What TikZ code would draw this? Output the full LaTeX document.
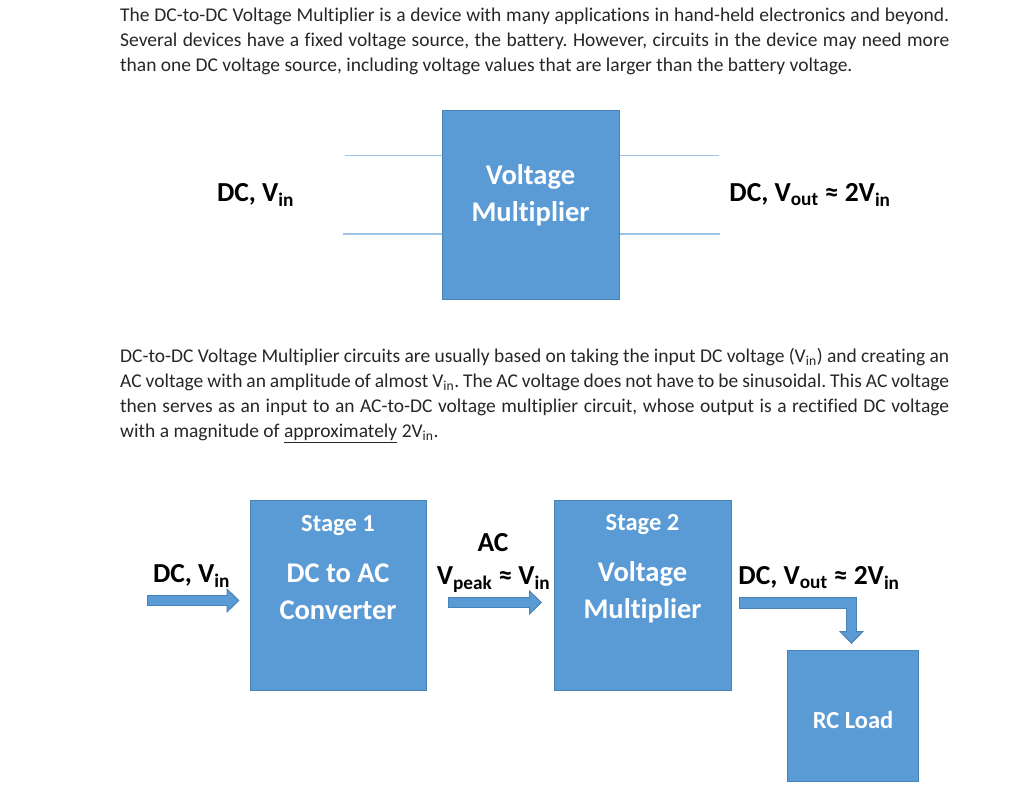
\documentclass[tikz,border=0pt]{standalone}
\usepackage{fontspec}
\setmainfont[Ligatures=NoCommon]{Carlito}
\usetikzlibrary{arrows.meta}

\definecolor{boxfill}{HTML}{5B9BD5}
\definecolor{boxedge}{HTML}{4A82B8}
\definecolor{wirecol}{HTML}{9CC2E6}
\definecolor{bodytext}{HTML}{262626}

\newcommand{\sub}[1]{\textsubscript{#1}}

\tikzset{
    block/.style={draw=boxedge, fill=boxfill, line width=1pt, inner sep=0pt, anchor=north west},
    boxtext/.style={text=white, font=\fontsize{28.5}{37.5}\selectfont\bfseries, align=center},
    stagetext/.style={text=white, font=\fontsize{24.5}{26}\selectfont\bfseries},
    sigtext/.style={text=black, font=\fontsize{27.5}{30}\selectfont\bfseries, inner sep=0pt},
    para/.style={text=bodytext, font=\fontsize{19.5}{25}\selectfont\frenchspacing, text width=829pt, align=justify, inner sep=0pt, anchor=north west},
    wire/.style={draw=wirecol, line width=1pt},
    blockarrow/.style={draw=boxedge, line width=11.5pt, shorten >=#1pt,
        -{Triangle[length=13pt, width=25pt, fill=boxfill, color=boxedge, line width=1pt]},
        postaction={draw=boxfill, line width=9.5pt, arrows=-, shorten >=#1pt+12pt, shorten <=1pt}},
}

\begin{document}
\begin{tikzpicture}[x=1pt, y=-1pt]
    \useasboundingbox (0, 0) rectangle (1024, 802);

    % Text paragraphs
    \node[para] (intro) at (120, 8) {The DC-to-DC Voltage Multiplier is a device with many applications in hand-held electronics and beyond.\linebreak
        Several devices have a fixed voltage source, the battery. However, circuits in the device may need more\linebreak
        than one DC voltage source, including voltage values that are larger than the battery voltage.};
    \node[para] (explain) at (120, 348) {DC-to-DC Voltage Multiplier circuits are usually based on taking the input DC voltage (V\sub{in}) and creating an\linebreak
        AC voltage with an amplitude of almost V\sub{in}. The AC voltage does not have to be sinusoidal. This AC voltage\linebreak
        then serves as an input to an AC-to-DC voltage multiplier circuit, whose output is a rectified DC voltage\linebreak
        with a magnitude of \underline{approximately} 2V\sub{in}.};

    % Top block
    \node[block, minimum width=177pt, minimum height=189pt] (vm) at (441.5, 110) {};
    \node[boxtext] (vmtext) at (530.5, 195) {Voltage\\Multiplier};
    \coordinate (inA) at (345, 156);
    \coordinate (inB) at (343, 234);
    \coordinate (outA) at (719, 156);
    \coordinate (outB) at (720, 234);
    \draw[wire] (inA) -- (inA -| vm.west);
    \draw[wire] (inB) -- (inB -| vm.west);
    \draw[wire] (outA) -- (outA -| vm.east);
    \draw[wire] (outB) -- (outB -| vm.east);
    \node[sigtext] (vin) at (255.5, 195) {DC, V\sub{in}};
    \node[sigtext] (vout) at (810, 195) {DC, V\sub{out} ≈ 2V\sub{in}};

    % Stages
    \node[block, minimum width=176pt, minimum height=189.5pt] (stageA) at (249.5, 500) {};
    \node[block, minimum width=176.5pt, minimum height=189.5pt] (stageB) at (554, 500) {};
    \node[block, minimum width=131pt, minimum height=130.5pt] (load) at (787, 650) {};
    \node[stagetext] (stageAtitle) at (338, 526) {Stage 1};
    \node[boxtext] (stageAtext) at (338, 592) {DC to AC\\Converter};
    \node[stagetext] (stageBtitle) at (642.5, 525) {Stage 2};
    \node[boxtext] (stageBtext) at (642.5, 592) {Voltage\\Multiplier};
    \node[stagetext] (loadtext) at (853, 720) {RC Load};

    % Signal labels
    \node[sigtext] (dcin) at (191.5, 576) {DC, V\sub{in}};
    \node[sigtext] (ac) at (493, 543) {AC};
    \node[sigtext] (vpeak) at (493.5, 580) {V\sub{peak} ≈ V\sub{in}};
    \node[sigtext] (dcout) at (819, 578) {DC, V\sub{out} ≈ 2V\sub{in}};

    % Block arrows
    \coordinate (dcstart) at (147, 600.5);
    \coordinate (acstart) at (448, 602.5);
    \coordinate (outstart) at (739, 603);
    \coordinate (outbend) at (851.5, 603);
    \draw[blockarrow=10] (dcstart) -- (dcstart -| stageA.west);
    \draw[blockarrow=12] (acstart) -- (acstart -| stageB.west);
    \draw[blockarrow=6] (outstart) -- (outbend) -- (outbend |- load.north);
\end{tikzpicture}
\end{document}
